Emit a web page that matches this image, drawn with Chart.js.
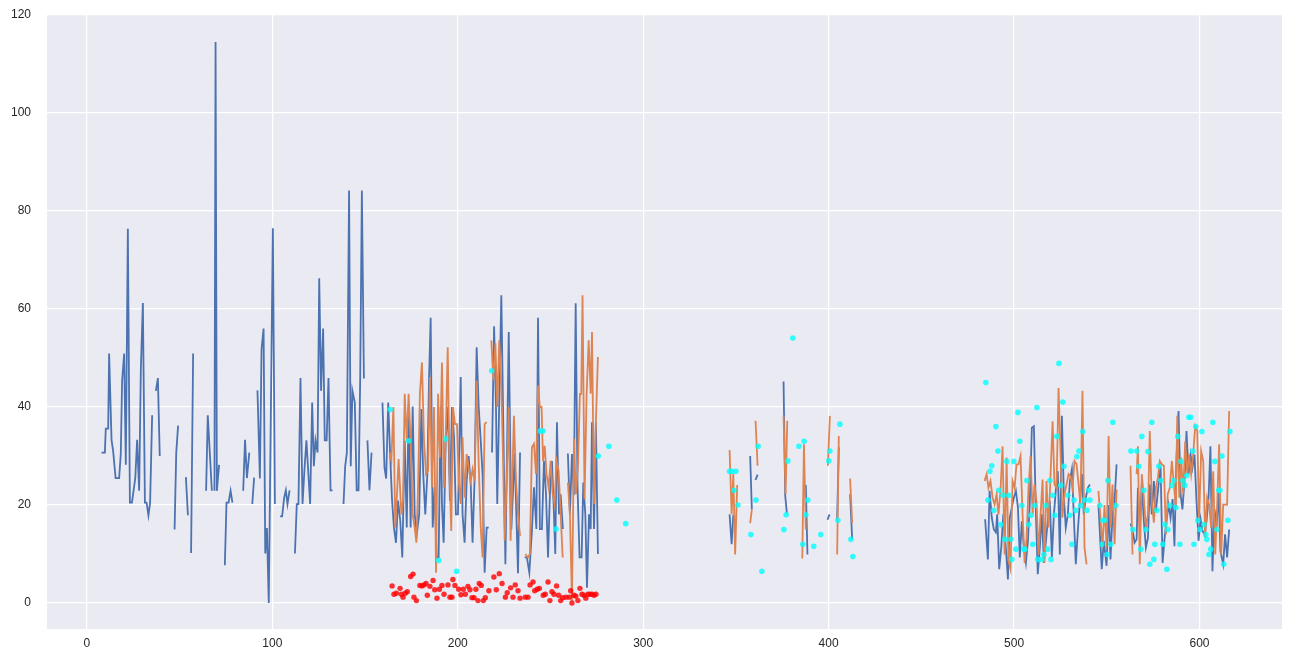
<!DOCTYPE html>
<html>
<head>
<meta charset="utf-8">
<script src="https://cdn.jsdelivr.net/npm/chart.js@4.4.1/dist/chart.umd.min.js"></script>
<style>
  body { margin: 0; background: #ffffff; }
  canvas { display: block; }
</style>
</head>
<body>
<canvas id="mainChart" width="1296" height="665"></canvas>
<script>
// tick labels
const xTicks = [0, 100, 200, 300, 400, 500, 600];
const yTicks = [0, 20, 40, 60, 80, 100, 120];

// blue line, [x, y]; null = gap
const bluePts = [
    [7.9, 30.7], [9.7, 30.7], [10.2, 35.6], [11.5, 35.6], [12.0, 50.9], [13.3, 33.3], [14.2, 30.9], [15.5, 25.5],
    [17.4, 25.5], [18.3, 30.5], [19.0, 45.3], [20.1, 50.9], [21.0, 28.2], [22.1, 76.4], [23.2, 20.5], [24.3, 20.5],
    [26.1, 25.5], [27.1, 33.3], [28.2, 22.9], [29.1, 47.6], [30.2, 61.2], [31.3, 20.5], [32.2, 20.5], [33.2, 17.9],
    [34.1, 20.5], [35.2, 38.3], null,
    [37.2, 43.3], [38.3, 45.9], [39.3, 30], null,
    [47.3, 15], [48.2, 30.7], [49.2, 36.2], null,
    [53.4, 25.7], [54.5, 17.9], null,
    [56.2, 10.2], [57.3, 50.9], null,
    [64.3, 22.9], [65.2, 38.3], [67.4, 22.9], null,
    [68.8, 22.9], [69.4, 114.5], [70.1, 22.9], [71.3, 28.2], null,
    [74.4, 7.7], [75.3, 20.5], [76.4, 20.5], [77.5, 22.9], [78.5, 20.5], null,
    [84.3, 22.9], [85.3, 33.3], [86.3, 25.5], [87.6, 30.7], null,
    [89.2, 20.2], [90.2, 25.6], null,
    [92.0, 43.4], [93.3, 25.4], [94.2, 51.8], [95.3, 56], [96.2, 10.1], [97.1, 15.3], [98.1, 0], [100.3, 76.5], [101.4, 20.2], null,
    [104.2, 17.7], [105.3, 17.7], [106.4, 21.5], [107.3, 23], [108.2, 20.2], [109.3, 23], null,
    [112.2, 10.1], [113.2, 20.2], [114.1, 20.2], [115.2, 45.9], [116.3, 20.2], [117.4, 27.6], [118.4, 33.2], [120.4, 20.2],
    [121.5, 40.9], [122.4, 27.9], [123.3, 33.2], [124.4, 30.7], [125.3, 66.3], [126.3, 43.3], [127.4, 56], [128.3, 33.2],
    [129.3, 33.2], [130.3, 45.9], [131.4, 23], [132.5, 23], null,
    [138.4, 20.2], [139.3, 27.9], [140.2, 30.7], [141.4, 84.2], [142.3, 27.9], [143.2, 43.3], [144.5, 40.9], [145.5, 23],
    [146.5, 23], [147.4, 45.8], [148.3, 84.2], [149.4, 45.8], null,
    [151.3, 33.2], [152.4, 23], [153.5, 30.7], null,
    [159.4, 40.9], [160.5, 27.6], [161.4, 25.4], [162.5, 40.9], [163.5, 30.7], [164.6, 20.9], [165.6, 15.4], [166.7, 12.3],
    [167.8, 20.9], [169.0, 16.8], [170.1, 9.3], [171.4, 33.1], [172.5, 15.4], [173.5, 40], [174.6, 15.4], [175.7, 40.1],
    [176.8, 18.1], [177.9, 14], [179.2, 18.1], [180.4, 39.6], [181.4, 26.3], [182.5, 18.1], [183.6, 26.3], [184.5, 45.4],
    [185.4, 58.2], [186.5, 15.4], [187.6, 23.6], [188.6, 9.3], [189.7, 9.3], [190.8, 40], [191.5, 20], [192.4, 12.3],
    [193.5, 33.1], [194.7, 40], [195.8, 20.9], [196.9, 40], [198.0, 33.8], [199.0, 18.1], [200.1, 18.1], [201.6, 46.1],
    [202.6, 18.1], [203.7, 12.3], [204.8, 24.9], [205.9, 30], [207.0, 24.3], [208.0, 12.3], [209.1, 25.6], [210.2, 52.2],
    [211.3, 40], [212.4, 33.1], [213.4, 26.3], [214.5, 6.2], [215.6, 15.4], [216.7, 15.4], null,
    [218.5, 30.7], [219.6, 56.5], [220.6, 40.6], [221.3, 20.2], [223.5, 62.8], [225.7, 7.9], [227.5, 55.3], [228.9, 15],
    [230.7, 30.5], [232.5, 6.1], [233.6, 30.7], null,
    [236.1, 9.3], [237.3, 9.3], [238.6, 6.2], [240.0, 14.7], [241.1, 23.6], [242.4, 15.1], [243.3, 58.2], [244.3, 15.1],
    [245.4, 15.1], [246.5, 29], [247.6, 22.2], [248.7, 9.3], [249.7, 22.2], [250.8, 29], [251.9, 18.1], [252.6, 10],
    [253.5, 36.9], [254.6, 18.1], [255.5, 22.2], [256.7, 15.1], null,
    [259.4, 30.5], [260.5, 18.1], [261.6, 30.4], [262.6, 22], [263.6, 61.2], [264.6, 23.6], [265.7, 9.3], [266.8, 9.3],
    [267.7, 24.6], [268.8, 18.1], [269.7, 3.1], [270.8, 18.1], [271.7, 15.1], [272.4, 36.9], [273.5, 15.1], [274.5, 36.9],
    [275.6, 10], null,
    [346.6, 18.1], [347.7, 12], [348.6, 18], null,
    [357.7, 30], [358.6, 19.1], null,
    [360.6, 25.1], [361.7, 26.2], null,
    [375.7, 45.2], [376.6, 21.9], [377.5, 18.3], null,
    [387.7, 24.1], [388.6, 9.9], null,
    [399.4, 17], [400.5, 18.1], null,
    [404.6, 17], [405.5, 31.8], null,
    [411.6, 22.2], [412.7, 13], null,
    [484.4, 17.1], [485.9, 8.9], [486.8, 22.9], [488.0, 17.4], [489.1, 15], [490.2, 14.4], [490.9, 18.1], [492.0, 6.9],
    [493.1, 11.3], [494.2, 18.1], [495.2, 13.3], [496.7, 4.8], [497.7, 17.4], [498.8, 19.5], [499.9, 21.5], [501.0, 22.9],
    [502.1, 19.5], [503.1, 9.3], [504.2, 16.7], [505.3, 11.3], [506.4, 8.2], [507.5, 12.7], [508.5, 20.5], [509.6, 35.8],
    [510.7, 36.1], [511.8, 18.1], [512.8, 5.9], [513.9, 11.3], [515.0, 18.1], [516.1, 8.2], [517.2, 12.7], [518.2, 16.7],
    [519.3, 20.8], [520.4, 9.3], [521.5, 18.1], [522.5, 22.9], [523.6, 26.9], [524.7, 9.9], [525.8, 38.2], [526.9, 21.5],
    [527.9, 15.4], [529.0, 18.1], [530.1, 24.9], [531.2, 27.3], [532.2, 18.1], [533.3, 7.9], [534.4, 14.7], [535.5, 20.8],
    [536.6, 26.3], [537.6, 18.1], [538.7, 21.5], [539.8, 23.5], [540.9, 24.2], null,
    [545.5, 20.1], [546.6, 12], [547.3, 6.9], [548.4, 12.7], [549.9, 7.6], [551.0, 20], [552.0, 8.9], [553.1, 18],
    [554.2, 20.8], [555.3, 28.3], null,
    [562.8, 16.2], [563.9, 15], [565.0, 12.3], [566.1, 13], [566.8, 23.5], [567.8, 15.4], [568.9, 24.2], [570.0, 16.7],
    [571.1, 11.3], [572.2, 13.3], [573.2, 24.2], [574.3, 18.1], [575.4, 24.9], [576.5, 18.8], [577.6, 22.9], [579.0, 28],
    [580.1, 8.2], [581.2, 13.3], [582.2, 16.7], [583.3, 20.1], [584.4, 17.4], [585.5, 21.2], [586.5, 11.6], [587.6, 29.7],
    [588.7, 39.2], [589.8, 22.2], [590.8, 19.1], [591.9, 24.9], [593.0, 35.1], [594.1, 26.3], [595.2, 30.3], [596.2, 27.6],
    [597.3, 30.3], [598.4, 20.8], [599.5, 12.7], [600.6, 17.1], [601.6, 14.7], [602.7, 14], [603.8, 16.7], [604.9, 21.5],
    [605.9, 32], [607.0, 6.5], [608.1, 19.1], [609.2, 15.4], [610.3, 22.9], [611.3, 10.6], [612.8, 7.9], [613.8, 14],
    [614.9, 9.3], [616.0, 15]
];

// orange line, [x, y]; null = gap
const orangePts = [
    [163.3, 30.7], [164.2, 29], [165.3, 40], [166.3, 15.4], [167.2, 22], [168.1, 29.4], [169.6, 18.1], [170.5, 21],
    [171.4, 42.7], [172.5, 33.1], [173.5, 42.7], [174.6, 33], [175.7, 18.1], [176.8, 15.4], [177.7, 12.3], [178.6, 23.6],
    [179.6, 42.7], [180.7, 49.1], [181.8, 33.1], [182.9, 26.3], [184.0, 27], [185.0, 46.1], [186.1, 23.6], [187.2, 40],
    [188.3, 6.2], [189.4, 42.7], [190.4, 29.7], [191.5, 49.1], [192.6, 23.6], [193.6, 35], [194.6, 52.2], [195.6, 26.3],
    [196.5, 14.7], [197.4, 40], [198.5, 36.5], [199.6, 36.5], [200.5, 24.9], [201.6, 20.2], [202.6, 33.8], [203.7, 21.5],
    [204.8, 30.4], [205.9, 27.7], [207.0, 24.9], [208.0, 27.3], [209.1, 24.9], [210.2, 45.4], [211.3, 28.4], [212.4, 15.4],
    [213.4, 9.3], [214.5, 36.5], [215.6, 36.9], null,
    [218.1, 53.6], [219.2, 45.4], [220.3, 53], [221.3, 40], [222.4, 53.6], [223.5, 44.4], [224.4, 30], [225.3, 12.7],
    [226.4, 25], [227.5, 40], [228.5, 12.7], [229.4, 25], [230.3, 38.2], [231.4, 25], [232.5, 18.1], [233.6, 13.7], null,
    [236.4, 10], [237.9, 9.3], [238.9, 10], [240.0, 31.8], [241.1, 32.5], [242.2, 26.3], [243.3, 44.4], [244.3, 40],
    [245.2, 40], [246.0, 29], [246.9, 32.1], [247.9, 26.3], [249.0, 23.6], [250.1, 29], [251.2, 22.2], [252.2, 20.2],
    [253.3, 29], [254.4, 27], [255.5, 18.1], [256.6, 9.3], null,
    [259.4, 24.6], [260.5, 18.1], [261.6, 0.4], [262.7, 33.5], [263.7, 22.2], [264.8, 27.7], [265.9, 42.7], [266.6, 42.7],
    [267.3, 62.8], [268.4, 21.2], [269.5, 42.7], [270.6, 53.6], [271.7, 42.7], [272.4, 55.3], [273.5, 20.2], [274.5, 36.9],
    [275.6, 50.2], null,
    [346.6, 31.2], [347.7, 18.1], [348.6, 26.3], [349.6, 9.9], [350.7, 24.1], null,
    [357.7, 16.3], [358.6, 19.1], null,
    [360.6, 37.2], [361.7, 28], null,
    [375.7, 38.2], [376.8, 22.2], [377.7, 37.2], null,
    [385.8, 9.1], [386.7, 32.4], [387.7, 15], null,
    [399.6, 28], [400.7, 38.2], null,
    [404.6, 9.9], [405.5, 34.1], null,
    [411.6, 25.4], [412.7, 16.3], null,
    [484.1, 24.9], [485.2, 26.3], [486.2, 23.5], [487.3, 24.9], [488.4, 21.5], [489.5, 20.1], [490.6, 22.2], [491.6, 18.1],
    [492.7, 22.9], [493.8, 32], [494.9, 9.9], [496.0, 29.7], [497.0, 8.6], [498.1, 6.9], [499.2, 24.9], [500.3, 23.5],
    [501.3, 28.3], [502.4, 28.3], [503.5, 30], [504.6, 18.1], [505.7, 8.2], [506.7, 13], [507.8, 23.5], [508.9, 30],
    [510.0, 18.1], [511.0, 24.2], [512.1, 20.8], [513.2, 9.9], [514.3, 18.1], [515.4, 25.2], [516.4, 8.2], [517.5, 24.9],
    [518.6, 15.4], [519.7, 26.3], [520.8, 37.1], [521.8, 24.2], [522.9, 23.5], [524.0, 43.9], [525.1, 30.3], [526.1, 17.4],
    [527.2, 22.2], [528.3, 24.2], [529.4, 26.3], [530.5, 25.9], [531.5, 23.5], [532.6, 29], [533.7, 28.3], [534.8, 24.2],
    [535.8, 20.1], [536.9, 43.3], [538.0, 11.3], [539.1, 7.9], null,
    [545.5, 22.9], [546.6, 17.4], [547.7, 11.3], [548.8, 20], [549.9, 11.3], [551.0, 34.1], [552.0, 15.4], [553.1, 24.2],
    [554.2, 12], [555.3, 23.2], null,
    [562.8, 28], [563.9, 9.9], null,
    [566.1, 26.3], [566.8, 32], [567.8, 7.9], [568.9, 26.3], [570.0, 21.5], [571.1, 15.4], [572.2, 18.1], [573.2, 35.1],
    [574.3, 20.8], [575.4, 16.4], [576.5, 23.5], [577.6, 25.6], [578.6, 29], [579.7, 28.3], [580.8, 28], [581.9, 14],
    [582.9, 22.2], [584.0, 23.5], [585.1, 29], [586.2, 24.2], [587.3, 19.5], [588.0, 38.2], [589.1, 21.5], [590.1, 29.7],
    [591.2, 22.2], [592.3, 33], [593.4, 26.3], [594.4, 30.3], [595.5, 26.3], [596.6, 30.3], [597.7, 36.1], [598.8, 35.1],
    [599.8, 16.7], [600.9, 31], [602.0, 29], [603.1, 13.3], [604.1, 21.5], [605.2, 20.1], [606.3, 15.4], [607.4, 26.9],
    [608.5, 9.9], [609.5, 19.5], [610.6, 32.4], [611.7, 9.9], [612.8, 20.1], [613.8, 20.1], [614.9, 20.1], [616.0, 39.2]
];

// red points
const redPts = [
    [164.6, 3.5], [165.6, 1.8], [166.9, 2.0], [168.9, 3.0], [169.6, 1.8], [170.5, 1.2], [171.7, 2.0], [172.8, 2.3],
    [174.6, 5.4], [175.9, 5.9], [176.4, 1.2], [177.7, 0.5], [179.6, 3.6], [180.7, 3.5], [181.8, 3.7], [182.9, 4.0],
    [183.6, 1.6], [185.0, 3.4], [186.7, 4.6], [187.6, 2.7], [188.8, 1.0], [190.1, 2.8], [191.5, 3.6], [192.6, 1.8],
    [194.7, 3.7], [195.8, 1.2], [196.9, 1.2], [197.4, 4.8], [198.5, 3.6], [200.5, 2.8], [201.7, 1.7], [203.0, 2.8],
    [204.1, 1.8], [205.5, 3.4], [206.6, 2.7], [207.7, 1.1], [208.8, 1.1], [209.8, 2.8], [210.9, 0.5], [211.6, 4.0],
    [212.7, 3.6], [213.8, 0.5], [214.9, 1.1], [216.8, 2.5], [219.5, 5.3], [220.8, 2.7], [222.4, 6.0], [223.9, 4.0],
    [225.7, 1.2], [226.7, 2.1], [228.5, 3.1], [229.8, 1.2], [231.0, 3.7], [232.5, 2.5], [233.6, 1.0], [236.4, 1.2],
    [237.9, 1.2], [239.0, 3.7], [240.6, 4.3], [241.5, 2.5], [242.9, 2.8], [244.0, 3.0], [246.1, 1.6], [247.2, 1.8],
    [248.7, 4.3], [249.7, 0.5], [250.8, 2.3], [251.9, 1.8], [253.3, 3.5], [254.4, 1.6], [255.5, 0.5], [256.6, 1.1],
    [258.4, 1.2], [260.2, 1.2], [260.9, 2.5], [261.6, 0.0], [262.7, 1.6], [263.7, 1.4], [264.8, 0.5], [265.9, 3.0],
    [267.0, 1.8], [268.1, 1.6], [269.1, 1.0], [270.2, 1.8], [271.3, 1.8], [272.4, 1.8], [273.5, 1.6], [274.5, 1.8]
];

// cyan points
const cyanPts = [
    [163.5, 39.5], [173.5, 33.1], [193.5, 33.5], [189.7, 8.7], [199.4, 6.5], [218.3, 47.4], [244.5, 35.1], [246.0, 35.1],
    [253.0, 15.1], [275.8, 30], [281.5, 32], [285.8, 21], [290.6, 16.2],
    [380.7, 54.1], [346.6, 26.9], [347.8, 26.9], [350.0, 26.9], [348.9, 23], [351.1, 20], [362.0, 32], [360.8, 21],
    [358.1, 14], [364.0, 6.5], [386.8, 33], [384.0, 32], [378.0, 29], [377.1, 18], [375.9, 15], [388.8, 21],
    [387.7, 18], [386.1, 12], [392.0, 11.6], [395.8, 14], [400.7, 31], [400.1, 29], [406.1, 36.5], [405.0, 16.9],
    [412.0, 13], [413.1, 9.5],
    [484.8, 45], [485.9, 21], [487.0, 26.9], [488.0, 28], [490.2, 36], [491.3, 31], [491.8, 23], [489.1, 18.9],
    [492.9, 16], [494.0, 22], [495.0, 13], [496.1, 28.9], [497.2, 22], [498.3, 13], [498.8, 8.9], [499.9, 28.9],
    [501.0, 11], [502.1, 38.9], [503.1, 33], [504.2, 19.9], [505.3, 11], [505.8, 11], [506.9, 25], [508.0, 16],
    [509.1, 17.9], [510.1, 12], [511.2, 19.9], [512.3, 39.9], [512.8, 8.9], [515.0, 8.9], [516.1, 9.9], [517.2, 19.9],
    [518.2, 11], [519.3, 25], [519.9, 8.9], [520.9, 22], [522.0, 17.9], [523.1, 34], [524.2, 48.9], [525.2, 24],
    [526.3, 41], [526.9, 27.9], [529.0, 22], [530.1, 17.9], [531.2, 12], [532.3, 21], [533.3, 18.9], [533.9, 29.9],
    [535.0, 31], [536.0, 19.9], [537.1, 35], [538.2, 21], [539.3, 18.9], [540.3, 23], [540.9, 21], [546.3, 19.9],
    [547.9, 16.9], [547.3, 12], [550.2, 9.9], [550.6, 25],
    [553.3, 36.9], [548.8, 16.9], [552.2, 12], [554.9, 19.9], [563.0, 31], [566.2, 31], [564.1, 15], [567.3, 27.9],
    [568.9, 34], [570.0, 23], [571.1, 15], [568.4, 11], [572.2, 30.9], [573.2, 7.9], [574.3, 36.9], [575.4, 8.9],
    [575.9, 12], [577.0, 18.9], [578.1, 27.9], [579.2, 25], [580.2, 12], [581.3, 16], [582.4, 6.9], [583.0, 15],
    [584.0, 19.9], [585.1, 24], [586.2, 25], [587.3, 19.5], [588.3, 34], [589.4, 12], [590.0, 28.9], [591.0, 25],
    [592.1, 24], [593.2, 26], [594.3, 37.9], [595.3, 37.9], [596.4, 31], [597.0, 12], [598.0, 36], [599.1, 16.9],
    [600.2, 15], [601.3, 35], [602.4, 16], [603.4, 14], [604.0, 13], [605.1, 9.9], [606.1, 11], [607.2, 36.9],
    [608.3, 28.9], [609.4, 15], [610.4, 23], [611.0, 23], [612.1, 30], [613.1, 7.9], [615.3, 16.9], [616.4, 35]
];

function toPoints(list) {
    let lastX = 0;
    return list.map(p => {
        if (!p) return { x: lastX, y: null };
        lastX = p[0];
        return { x: p[0], y: p[1] };
    });
}

const bgPlugin = {
    id: "axesBg",
    beforeDraw(chart) {
        const a = chart.chartArea;
        const c = chart.ctx;
        c.save();
        c.fillStyle = "#eaeaf2";
        c.fillRect(a.left, a.top, a.right - a.left, a.bottom - a.top);
        c.restore();
    }
};

const ctx = document.getElementById("mainChart").getContext("2d");

new Chart(ctx, {
    type: "scatter",
    data: {
        datasets: [
            {
                label: "cyan",
                data: toPoints(cyanPts),
                backgroundColor: "rgba(0,255,255,0.8)",
                borderWidth: 0,
                pointRadius: 2.8,
                order: 0
            },
            {
                label: "red",
                data: toPoints(redPts),
                backgroundColor: "rgba(255,0,0,0.8)",
                borderWidth: 0,
                pointRadius: 2.7,
                order: 1
            },
            {
                label: "orange",
                data: toPoints(orangePts),
                showLine: true,
                spanGaps: false,
                borderColor: "#dd8452",
                borderWidth: 1.8,
                pointRadius: 0,
                order: 2
            },
            {
                label: "blue",
                data: toPoints(bluePts),
                showLine: true,
                spanGaps: false,
                borderColor: "#4c72b0",
                borderWidth: 1.8,
                pointRadius: 0,
                order: 3
            }
        ]
    },
    options: {
        responsive: false,
        animation: false,
        layout: { padding: { top: 15, right: 14, left: 0, bottom: 0 } },
        plugins: {
            legend: { display: false },
            tooltip: { enabled: false }
        },
        scales: {
            x: {
                type: "linear",
                min: -21.5,
                max: 644.5,
                afterBuildTicks: axis => { axis.ticks = xTicks.map(v => ({ value: v })); },
                afterFit: axis => {
                    axis.height = 36;
                    axis.paddingLeft = 0;
                    axis.paddingRight = 0;
                },
                grid: { color: "#ffffff", lineWidth: 1.2, drawTicks: false },
                border: { display: false },
                ticks: {
                    color: "#262626",
                    padding: 7,
                    font: { family: "Liberation Sans", size: 12 }
                }
            },
            y: {
                type: "linear",
                min: -5.3,
                max: 120,
                afterBuildTicks: axis => { axis.ticks = yTicks.map(v => ({ value: v })); },
                afterFit: axis => {
                    axis.width = 47;
                    axis.paddingTop = 0;
                    axis.paddingBottom = 0;
                },
                grid: { color: "#ffffff", lineWidth: 1.2, drawTicks: false },
                border: { display: false },
                ticks: {
                    color: "#262626",
                    padding: 16,
                    font: { family: "Liberation Sans", size: 12 }
                }
            }
        }
    },
    plugins: [bgPlugin]
});
</script>
</body>
</html>
